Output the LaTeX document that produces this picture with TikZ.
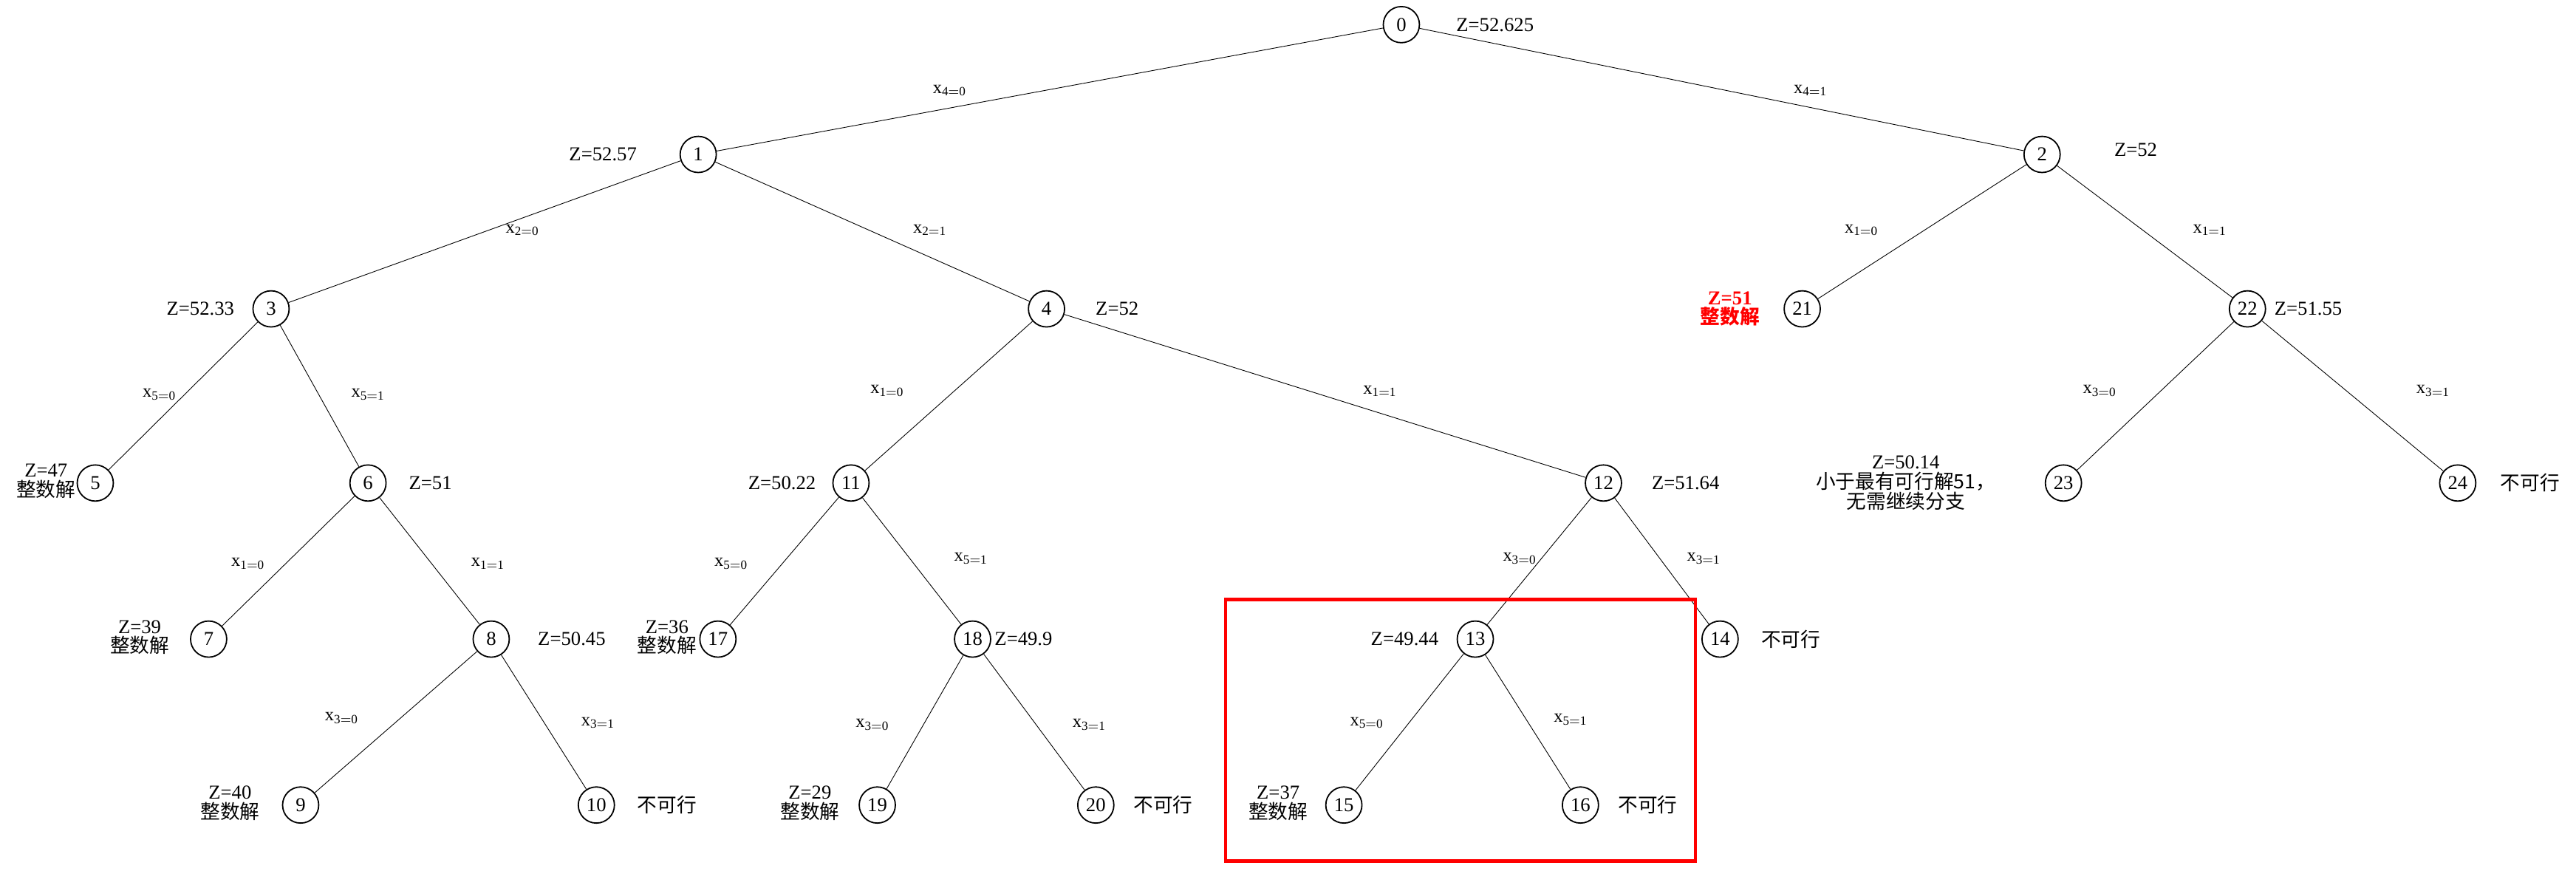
\documentclass[tikz,border=0pt]{standalone}
\usepackage{fontspec}
\setmainfont{Liberation Serif}
\newfontfamily\cjk{Noto Sans CJK SC}
\begin{document}
\begin{tikzpicture}[x=1pt,y=-1pt,
  nd/.style={circle,draw,thick,minimum size=22pt,inner sep=0pt,font=\fontsize{12}{14}\selectfont},
  lb/.style={font=\fontsize{12}{14}\selectfont,inner sep=1pt,align=center},
  el/.style={font=\fontsize{11}{13}\selectfont,inner sep=1pt}]
\useasboundingbox (0,0) rectangle (1568,530);
\foreach \n/\x/\y in {0/853/15,1/425/94,2/1243/94,3/165/188,4/637/188,21/1097/188,22/1368/188,
 5/58/294,6/224/294,11/518/294,12/976/294,23/1256/294,24/1496/294,
 7/127/389,8/299/389,17/437/389,18/592/389,13/898/389,14/1047/389,
 9/183/490,10/363/490,19/534/490,20/667/490,15/818/490,16/962/490}
 \node[nd] (n\n) at (\x,\y) {\n};
\foreach \a/\b/\t/\x/\y in {0/1/4=0/578/55,0/2/4=1/1102/55,1/3/2=0/318/140,1/4/2=1/566/140,
 2/21/1=0/1133/140,2/22/1=1/1345/140,3/5/5=0/97/240,3/6/5=1/224/240,4/11/1=0/540/238,
 4/12/1=1/840/238,22/23/3=0/1278/238,22/24/3=1/1481/238,6/7/1=0/151/343,6/8/1=1/297/343,
 11/17/5=0/445/343,11/18/5=1/591/340,12/13/3=0/925/340,12/14/3=1/1037/340,
 8/9/3=0/208/437,8/10/3=1/364/440,18/19/3=0/531/441,18/20/3=1/663/441,
 13/15/5=0/832/440,13/16/5=1/956/438}
 {\draw (n\a) -- (n\b); \node[el] (e\a-\b) at (\x,\y) {x$_{\mathrm{\t}}$};}
\foreach \n/\x/\y/\t in {z0/910/15/Z=52.625,z1/367/94/Z=52.57,z2/1300/91/Z=52,z3/122/188/Z=52.33,
 z4/680/188/Z=52,z22/1405/188/Z=51.55,z6/262/294/Z=51,z11/476/294/Z=50.22,z12/1026/294/Z=51.64,
 z8/348/389/Z=50.45,z18/623/389/Z=49.9,z13/855/389/Z=49.44}
 \node[lb] (\n) at (\x,\y) {\t};
\foreach \n/\x/\y/\t in {z5/28/293/47,z7/85/388/39,z17/406/388/36,z9/140/489/40,z19/493/489/29,z15/778/489/37}
 \node[lb] (\n) at (\x,\y) {Z=\t\\[-2pt]{\cjk 整数解}};
\node[lb,text=red,font=\bfseries\fontsize{12}{14}\selectfont] (z21) at (1053,188) {Z=51\\[-2pt]{\cjk 整数解}};
\node[lb] (z23) at (1160,294) {Z=50.14\\[-2pt]{\cjk 小于最有可行解51，}\\[-2pt]{\cjk 无需继续分支}};
\foreach \n/\x/\y in {f24/1540/294,f14/1090/389,f10/406/490,f20/708/490,f16/1003/490}
 \node[lb] (\n) at (\x,\y) {\cjk 不可行};
\draw[red,line width=2pt] (746,365) rectangle (1032,524);
\end{tikzpicture}
\end{document}
